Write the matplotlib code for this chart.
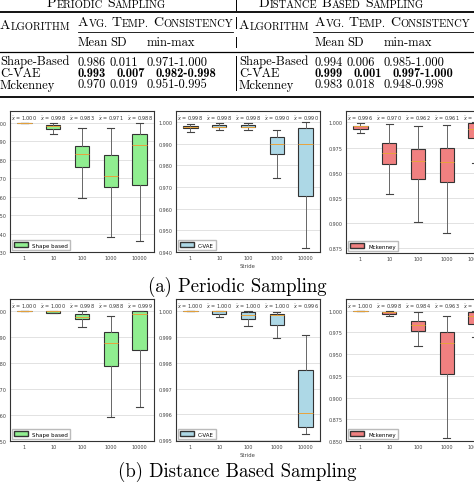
import matplotlib
matplotlib.use("Agg")
import matplotlib.pyplot as plt
from matplotlib.patches import Patch

W, H = 474, 485

# ---- table data ----
algorithms = ["Shape-Based", "C-VAE", "Mckenney"]
periodic_mean = [0.986, 0.993, 0.970]
periodic_sd = [0.011, 0.007, 0.019]
periodic_range = ["0.971-1.000", "0.982-0.998", "0.951-0.995"]
distance_mean = [0.994, 0.999, 0.983]
distance_sd = [0.006, 0.001, 0.018]
distance_range = ["0.985-1.000", "0.997-1.000", "0.948-0.998"]
best_row = 1

# ---- boxplot data: per stride [whisker low, q1, median, q3, whisker high] ----
strides = ["1", "10", "100", "1000", "10000"]

per_shape = [[1.000, 1.000, 1.000, 1.000, 1.000],
             [0.994, 0.9966, 0.998, 0.9985, 1.000],
             [0.959, 0.9759, 0.983, 0.9871, 0.997],
             [0.938, 0.965, 0.971, 0.9825, 0.997],
             [0.936, 0.9661, 0.988, 0.9941, 1.000]]
per_cvae = [[0.9957, 0.9974, 0.998, 0.9981, 0.9994],
            [0.9962, 0.9976, 0.998, 0.9988, 0.9997],
            [0.9966, 0.9976, 0.998, 0.9988, 0.9997],
            [0.974, 0.9853, 0.990, 0.993, 0.9966],
            [0.942, 0.966, 0.990, 0.9974, 1.000]]
per_mck = [[0.9894, 0.9937, 0.996, 0.9964, 0.9993],
           [0.9292, 0.959, 0.970, 0.9795, 0.9983],
           [0.9011, 0.9441, 0.962, 0.9732, 0.9964],
           [0.890, 0.9405, 0.961, 0.9745, 0.997],
           [0.960, 0.9845, 0.993, 0.9993, 1.000]]

dist_shape = [[1.000, 1.000, 1.000, 1.000, 1.000],
              [0.9994, 0.9995, 1.000, 1.000, 1.000],
              [0.9941, 0.9972, 0.998, 0.9992, 1.000],
              [0.9591, 0.979, 0.988, 0.992, 0.9981],
              [0.9632, 0.9852, 0.999, 1.000, 1.000]]
dist_cvae = [[1.000, 1.000, 1.000, 1.000, 1.000],
             [0.99978, 0.99991, 1.000, 1.000, 1.000],
             [0.99942, 0.99971, 0.99985, 0.99996, 1.000],
             [0.99895, 0.99949, 0.99985, 0.9999, 0.99997],
             [0.99523, 0.99551, 0.99605, 0.99773, 0.99909]]
dist_mck = [[1.000, 1.000, 1.000, 1.000, 1.000],
            [0.9942, 0.9962, 0.998, 0.9982, 0.9992],
            [0.9596, 0.9769, 0.984, 0.9885, 0.9988],
            [0.8535, 0.9269, 0.963, 0.9754, 0.9935],
            [0.970, 0.9842, 0.994, 0.998, 1.000]]

fig = plt.figure(figsize=(W / 100, H / 100), dpi=100)

# full-figure axes in pixel units for the table and captions
tab = fig.add_axes([0, 0, 1, 1])
tab.set_xlim(0, W)
tab.set_ylim(H, 0)
tab.axis("off")

RM = "cmr10"
BF = "cmb10"
FS = 10     # small-caps headers
BS = 9      # body text


def small_caps(x, y, text, size):
    prev = None
    for wi, word in enumerate(text.split()):
        for pi, (s, fs) in enumerate([(word[0], size), (word[1:].upper(), size * 0.76)]):
            if not s:
                continue
            if prev is None:
                prev = tab.text(x, y, s, fontsize=fs, family=RM, va="baseline")
            else:
                gap = size * 0.33 if (pi == 0 and wi > 0) else 0
                prev = tab.annotate(s, xy=(1, 0), xycoords=prev, xytext=(gap, 0),
                                    textcoords="offset points", fontsize=fs,
                                    family=RM, va="bottom")


small_caps(47, 7, "Periodic Sampling", FS)
small_caps(259, 7, "Distance Based Sampling", FS)
for x0, xa in [(0, 78), (239, 315)]:
    small_caps(x0, 29, "Algorithm", FS)
    small_caps(xa, 26, "Avg. Temp. Consistency", FS)

left_cols = [78, 110, 147]
right_cols = [315, 347, 384]
for cols in [left_cols, right_cols]:
    for x, s in zip(cols, ["Mean", "SD", "min-max"]):
        tab.text(x, 46, s, fontsize=BS, family=RM, va="baseline")

row_y = [65.5, 77, 88.5]
for i, name in enumerate(algorithms):
    bold = i == best_row
    fam = BF if bold else RM
    shift = [0, 7, 9] if bold else [0, 0, 0]
    tab.text(0, row_y[i], name, fontsize=BS, family=RM, va="baseline")
    tab.text(239, row_y[i], name, fontsize=BS, family=RM, va="baseline")
    vals_l = [f"{periodic_mean[i]:.3f}", f"{periodic_sd[i]:.3f}", periodic_range[i]]
    vals_r = [f"{distance_mean[i]:.3f}", f"{distance_sd[i]:.3f}", distance_range[i]]
    for x, d, s in zip(left_cols, shift, vals_l):
        tab.text(x + d, row_y[i], s, fontsize=BS, family=fam, va="baseline")
    for x, d, s in zip(right_cols, shift, vals_r):
        tab.text(x + d, row_y[i], s, fontsize=BS, family=fam, va="baseline")

tab.plot([0, W], [12.5, 12.5], color="k", lw=1.3)
tab.plot([78, 233], [32.5, 32.5], color="k", lw=0.6)
tab.plot([313, W], [32.5, 32.5], color="k", lw=0.6)
tab.plot([0, W], [52.5, 52.5], color="k", lw=0.9)
tab.plot([0, W], [98, 98], color="k", lw=1.3)
for y0, y1 in [(0, 11), (18, 29), (38, 48), (57, 91)]:
    tab.plot([236.5, 236.5], [y0, y1], color="k", lw=0.7)

tab.text(237, 287, "(a) Periodic Sampling", ha="center", va="center", family=RM, fontsize=13.5)
tab.text(237, 472, "(b) Distance Based Sampling", ha="center", va="center", family=RM, fontsize=13.5)


def px_axes(x0, y0, x1, y1):
    return fig.add_axes([x0 / W, 1 - y1 / H, (x1 - x0) / W, (y1 - y0) / H])


def draw_panel(ax, rows, color, label, yticks, ylim, xlabel=False):
    stats = [dict(whislo=r[0], q1=r[1], med=r[2], q3=r[3], whishi=r[4]) for r in rows]
    ax.bxp(stats, positions=range(1, 6), widths=0.5, patch_artist=True, showfliers=False,
           boxprops=dict(facecolor=color, edgecolor="#333333", linewidth=0.8),
           whiskerprops=dict(color="#666666", linewidth=0.7),
           capprops=dict(color="#444444", linewidth=0.8),
           medianprops=dict(color="#e8a33c", linewidth=0.7))
    ax.set_xlim(0.5, 5.5)
    ax.set_ylim(*ylim)
    ax.set_yticks(yticks)
    ax.set_yticklabels([f"{t:.3f}" for t in yticks])
    ax.set_xticks(range(1, 6))
    ax.set_xticklabels(strides)
    ax.tick_params(length=0, labelsize=3.5, colors="#444444", pad=2.5)
    ax.yaxis.grid(True, color="#dddddd", lw=0.6)
    ax.set_axisbelow(True)
    for sp in ax.spines.values():
        sp.set_color("#333333")
        sp.set_linewidth(0.8)
    for i, r in enumerate(rows):
        ax.text(i + 1, 0.96, rf"$\tilde{{x}}$ = {r[2]:.3f}", transform=ax.get_xaxis_transform(),
                ha="center", va="center", fontsize=3.5, color="#333333")
    ax.legend(handles=[Patch(facecolor=color, edgecolor="#333333", label=label)],
              loc="lower left", fontsize=4, fancybox=False, edgecolor="#aaaaaa",
              handlelength=2.4, handleheight=0.9, borderpad=0.4, borderaxespad=0.4)
    if xlabel:
        ax.set_xlabel("Stride", fontsize=3.8, color="#444444", labelpad=1.5)


green, blue, red = "#90ee90", "#add8e6", "#f08080"
ytk = lambda a, b, s: [round(a + k * s, 3) for k in range(int(round((b - a) / s)) + 1)]

draw_panel(px_axes(10, 112, 154, 253), per_shape, green, "Shape based",
           ytk(0.93, 1.0, 0.01), (0.9309, 1.0063))
draw_panel(px_axes(176, 112, 320, 253), per_cvae, blue, "C-VAE",
           ytk(0.94, 1.0, 0.01), (0.9406, 1.0052), xlabel=True)
draw_panel(px_axes(346, 112, 490, 254), per_mck, red, "Mckenney",
           ytk(0.875, 1.0, 0.025), (0.8704, 1.0112))
draw_panel(px_axes(10, 300, 154, 442), dist_shape, green, "Shape based",
           ytk(0.95, 1.0, 0.01), (0.950, 1.0048))
draw_panel(px_axes(176, 300, 320, 442), dist_cvae, blue, "C-VAE",
           ytk(0.995, 1.0, 0.001), (0.99497, 1.00048), xlabel=True)
draw_panel(px_axes(346, 300, 490, 442), dist_mck, red, "Mckenney",
           ytk(0.85, 1.0, 0.025), (0.850, 1.0135))

fig.savefig("out.png", dpi=100)
